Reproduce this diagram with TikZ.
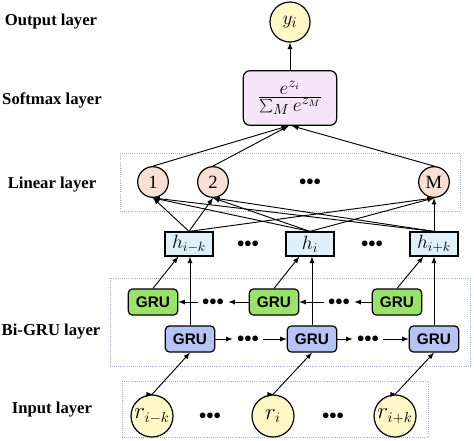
\documentclass[tikz,border=0pt]{standalone}
\usepackage{fontspec}
\setmainfont{Liberation Serif}
\newfontfamily\grufont{Liberation Sans}
\usetikzlibrary{positioning}
\definecolor{outyellow}{RGB}{255,249,200}
\definecolor{softpink}{RGB}{246,228,248}
\definecolor{linpeach}{RGB}{248,225,212}
\definecolor{hcyan}{RGB}{224,240,248}
\definecolor{grugreen}{RGB}{155,226,106}
\definecolor{grublue}{RGB}{181,195,245}
\definecolor{framegray}{RGB}{165,180,205}
\newcommand{\dotrow}{$\mathord{\bullet}\mathord{\bullet}\mathord{\bullet}$}
\tikzset{layerlabel/.style = {font=\fontsize{12.5}{15}\selectfont\bfseries}}
\tikzset{frame/.style = {draw=framegray, densely dotted, line width=0.6pt}}
\tikzset{outnode/.style = {draw, circle, line width=0.9pt, fill=outyellow, minimum size=30pt, inner sep=0pt, font=\fontsize{15}{17}\selectfont}}
\tikzset{softbox/.style = {draw, rounded corners=5pt, line width=0.9pt, fill=softpink, minimum width=70pt, minimum height=41pt, inner sep=1pt, font=\fontsize{15}{17}\selectfont}}
\tikzset{linnode/.style = {draw, circle, line width=0.9pt, fill=linpeach, minimum size=23pt, inner sep=0pt, font=\fontsize{14}{16}\selectfont}}
\tikzset{hbox/.style = {draw, line width=0.9pt, fill=hcyan, minimum width=36pt, minimum height=18pt, inner sep=1pt, font=\fontsize{14.5}{16}\selectfont}}
\tikzset{grugreen/.style = {draw, rounded corners=3pt, line width=0.9pt, fill=grugreen, minimum width=37pt, minimum height=19.5pt, inner sep=1pt, font=\fontsize{11.5}{13}\selectfont\grufont\bfseries}}
\tikzset{grublue/.style = {grugreen, fill=grublue}}
\tikzset{innode/.style = {draw, circle, line width=0.9pt, fill=outyellow, minimum size=31.5pt, inner sep=0pt, font=\fontsize{16}{18}\selectfont}}
\tikzset{dotnode/.style = {inner sep=3pt, font=\fontsize{11}{13}\selectfont}}

\begin{document}
\begin{tikzpicture}[x=0.75pt, y=-0.75pt, >=latex, line width=0.7pt]
  \useasboundingbox (0,0) rectangle (474,440);

  % dotted frames round the layers
  \draw[frame] (120,153) rectangle (460,211);
  \draw[frame] (110,278) rectangle (470,366);
  \draw[frame] (122,381) rectangle (428,437);

  % layer names
  \node [layerlabel] (tout) at (51,22) {Output layer};
  \node [layerlabel] (tsoft) at (52,100) {Softmax layer};
  \node [layerlabel] (tlin) at (52,185) {Linear layer};
  \node [layerlabel] (tgru) at (51,332) {Bi-GRU layer};
  \node [layerlabel] (tin) at (52,410) {Input layer};

  % output and softmax
  \node [outnode] (y) at (290,22) {$y_i$};
  \node [softbox] (sm) at (290,98) {$\frac{\textstyle e^{z_i}}{\textstyle\sum_M e^{z_M}}$};

  % linear layer
  \node [linnode] (l1) at (153,182) {1};
  \node [linnode] (l2) at (213,182) {2};
  \node [dotnode] (ld) at (310,182) {\dotrow};
  \node [linnode] (lM) at (434,182) {M};

  % hidden states
  \node [hbox] (h1) at (189,244) {$h_{i-k}$};
  \node [dotnode] (hd1) at (248,244) {\dotrow};
  \node [hbox] (h2) at (310,244) {$h_i$};
  \node [dotnode] (hd2) at (372,244) {\dotrow};
  \node [hbox] (h3) at (434,244) {$h_{i+k}$};

  % backward GRUs
  \node [grugreen] (g1) at (153,302) {GRU};
  \node [dotnode] (gd1) at (213,302) {\dotrow};
  \node [grugreen] (g2) at (274,302) {GRU};
  \node [dotnode] (gd2) at (339,302) {\dotrow};
  \node [grugreen] (g3) at (397,302) {GRU};

  % forward GRUs
  \node [grublue] (b1) at (190,339) {GRU};
  \node [dotnode] (bd1) at (248,339) {\dotrow};
  \node [grublue] (b2) at (312,339) {GRU};
  \node [dotnode] (bd2) at (368,339) {\dotrow};
  \node [grublue] (b3) at (434,339) {GRU};

  % inputs
  \node [innode] (r1) at (152,416) {$r_{i-k}$};
  \node [dotnode] (rd1) at (210,416) {\dotrow};
  \node [innode] (r2) at (273,416) {$r_i$};
  \node [dotnode] (rd2) at (333,416) {\dotrow};
  \node [innode] (r3) at (395,416) {$r_{i+k}$};

  \path[->] (sm) edge (y);
  \path[->] (l1.north) edge ([xshift=-1.5pt]sm.south);
  \path[->] (l2.north) edge ([xshift=-1pt]sm.south);
  \path[->] (lM.north) edge ([xshift=1.5pt]sm.south);

  \foreach \h in {h1,h2,h3}
    \foreach \l in {l1,l2,lM}
      \path[->] (\h.north) edge (\l.south);

  \path[->] (g1.north) edge ([xshift=-8pt]h1.south);
  \path[->] (g2.north) edge ([xshift=-8pt]h2.south);
  \path[->] (g3.north) edge ([xshift=-8pt]h3.south);
  \path[->] (b1.north) edge (b1.north |- h1.south);
  \path[->] (b2.north) edge (b2.north |- h2.south);
  \path[->] (b3.north) edge (b3.north |- h3.south);

  \path[->] (g2.west) edge (gd1.east);
  \path[->] (gd1.west) edge (g1.east);
  \path[->] (g3.west) edge (gd2.east);
  \path[->] (gd2.west) edge (g2.east);
  \path[->] (b1.east) edge (bd1.west);
  \path[->] (bd1.east) edge (b2.west);
  \path[->] (b2.east) edge (bd2.west);
  \path[->] (bd2.east) edge (b3.west);

  \path[->] (r1.north) edge (r1.north -| g1.south) edge (b1.south);
  \path[->] (r2.north) edge (r2.north -| g2.south) edge (b2.south);
  \path[->] (r3.north) edge (r3.north -| g3.south) edge (b3.south);
\end{tikzpicture}
\end{document}
